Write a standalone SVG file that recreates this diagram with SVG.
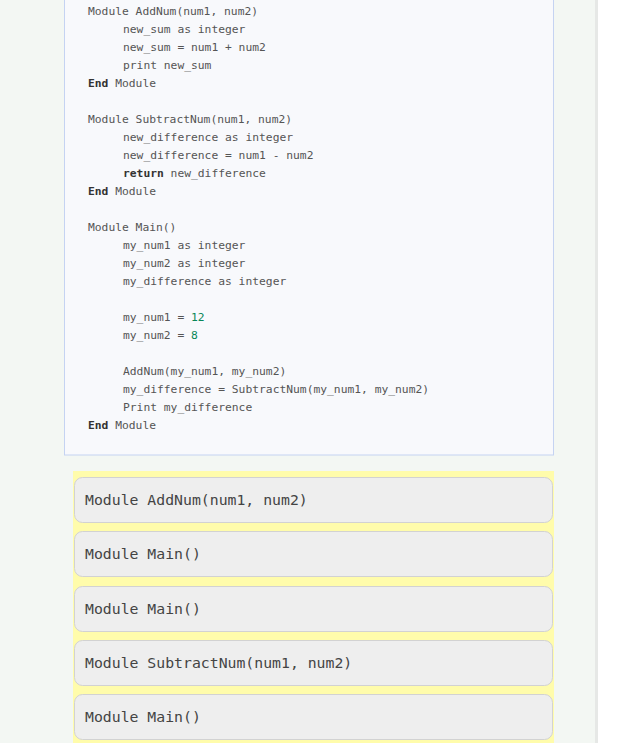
<svg xmlns="http://www.w3.org/2000/svg" width="625" height="743" viewBox="0 0 625 743">
<style>
.c{font-family:"DejaVu Sans Mono","Liberation Mono",monospace;font-size:11.3px;fill:#555}
.b{font-weight:bold;fill:#333}
.n{fill:#098658}
.o{fill:#eeeeee;stroke:#d2d2d2;stroke-width:1}
.t{font-family:"DejaVu Sans Mono","Liberation Mono",monospace;font-size:14.8px;fill:#444}
</style>
<rect width="625" height="743" fill="#ffffff"/>
<rect x="0" y="0" width="595" height="743" fill="#f3f7f3"/>
<rect x="595" y="0" width="3" height="743" fill="#e6e8e6"/>
<g id="code">
<rect x="64.5" y="-5" width="489" height="460" fill="#f8f9fc" stroke="#c5d3f2"/>
<text class="c" x="88" y="15">Module AddNum(num1, num2)</text>
<text class="c" x="123" y="33">new_sum as integer</text>
<text class="c" x="123" y="51">new_sum = num1 + num2</text>
<text class="c" x="123" y="69">print new_sum</text>
<text class="c" x="88" y="87"><tspan class="b">End</tspan> Module</text>
<text class="c" x="88" y="123">Module SubtractNum(num1, num2)</text>
<text class="c" x="123" y="141">new_difference as integer</text>
<text class="c" x="123" y="159">new_difference = num1 - num2</text>
<text class="c" x="123" y="177"><tspan class="b">return</tspan> new_difference</text>
<text class="c" x="88" y="195"><tspan class="b">End</tspan> Module</text>
<text class="c" x="88" y="231">Module Main()</text>
<text class="c" x="123" y="249">my_num1 as integer</text>
<text class="c" x="123" y="267">my_num2 as integer</text>
<text class="c" x="123" y="285">my_difference as integer</text>
<text class="c" x="123" y="321">my_num1 = <tspan class="n">12</tspan></text>
<text class="c" x="123" y="339">my_num2 = <tspan class="n">8</tspan></text>
<text class="c" x="123" y="375">AddNum(my_num1, my_num2)</text>
<text class="c" x="123" y="393">my_difference = SubtractNum(my_num1, my_num2)</text>
<text class="c" x="123" y="411">Print my_difference</text>
<text class="c" x="88" y="429"><tspan class="b">End</tspan> Module</text>
</g>
<rect x="73" y="471" width="481" height="272" fill="#fffcab"/>
<g id="item1"><rect class="o" x="74.5" y="477.5" width="478" height="45" rx="8"/><text class="t" x="85" y="505">Module AddNum(num1, num2)</text></g>
<g id="item2"><rect class="o" x="74.5" y="531.5" width="478" height="45" rx="8"/><text class="t" x="85" y="559">Module Main()</text></g>
<g id="item3"><rect class="o" x="74.5" y="586.5" width="478" height="45" rx="8"/><text class="t" x="85" y="614">Module Main()</text></g>
<g id="item4"><rect class="o" x="74.5" y="640.5" width="478" height="45" rx="8"/><text class="t" x="85" y="668">Module SubtractNum(num1, num2)</text></g>
<g id="item5"><rect class="o" x="74.5" y="694.5" width="478" height="45" rx="8"/><text class="t" x="85" y="722">Module Main()</text></g>
<g id="connectors"/>
</svg>
